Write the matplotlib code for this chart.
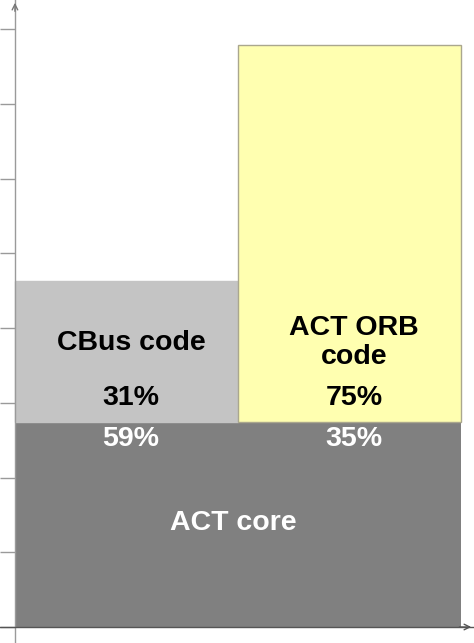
import matplotlib
matplotlib.use("Agg")
import matplotlib.pyplot as plt

# stacked blocks (units = tick steps)
products = ["CBus", "ACT ORB"]
core_size = [2.74, 2.74]
code_size = [1.89, 5.04]
code_names = ["CBus code", "ACT ORB\ncode"]
code_share = ["31%", "75%"]
core_share = ["59%", "35%"]
yticks = [0, 1, 2, 3, 4, 5, 6, 7, 8]

plt.rcParams["font.family"] = ["Liberation Sans", "DejaVu Sans"]

fig = plt.figure(figsize=(4.74, 6.43), dpi=100)
ax = fig.add_axes([0, 0, 1, 1])
ax.set_xlim(-0.067, 2.058)
ax.set_ylim(-0.214, 8.388)

x = list(range(len(products)))
ax.bar(x, core_size, width=1, align="edge", color="#808080", linewidth=0)
code_colors = ["#c4c4c4", "#ffffb0"]
code_edges = ["#c4c4c4", "#aaa78e"]
for i in x:
    ax.bar(i, code_size[i], bottom=core_size[i], width=1, align="edge",
           color=code_colors[i], edgecolor=code_edges[i], linewidth=1.0)

# text inside the blocks
fs = 20.5
for i in x:
    cx = i + 0.52
    ax.text(cx, core_size[i] - 0.23, core_share[i], ha="center", va="center",
            color="white", fontsize=fs, fontweight="bold")
    ax.text(cx, core_size[i] + 0.32, code_share[i], ha="center", va="center",
            color="black", fontsize=fs, fontweight="bold")
ax.text(0.52, 3.8, code_names[0], ha="center", va="center", color="black",
        fontsize=fs, fontweight="bold")
orb = code_names[1].split("\n")
ax.text(1.52, 4.0, orb[0], ha="center", va="center", color="black",
        fontsize=fs, fontweight="bold")
ax.text(1.52, 3.61, orb[1], ha="center", va="center", color="black",
        fontsize=fs, fontweight="bold")
ax.text(0.98, 1.39, "ACT core", ha="center", va="center", color="white",
        fontsize=fs, fontweight="bold")

# axes lines
for s in ["top", "right"]:
    ax.spines[s].set_visible(False)
ax.spines["left"].set_position(("data", 0))
ax.spines["bottom"].set_position(("data", 0))
ax.spines["left"].set_color("#9a9a9a")
ax.spines["bottom"].set_color("#555555")
ax.spines["left"].set_linewidth(1.0)
ax.spines["bottom"].set_linewidth(1.0)
ax.set_yticks(yticks)
ax.set_yticklabels([])
ax.set_xticks([])
ax.tick_params(axis="y", direction="out", length=10.8, color="#9a9a9a", width=1.0)

ax.annotate("", xy=(0, 8.388), xytext=(0, 8.2),
            arrowprops=dict(arrowstyle="->", color="#777777", lw=1.0))
ax.annotate("", xy=(2.058, 0), xytext=(1.98, 0),
            arrowprops=dict(arrowstyle="->", color="#555555", lw=1.0))

fig.savefig("out.png", dpi=100)
